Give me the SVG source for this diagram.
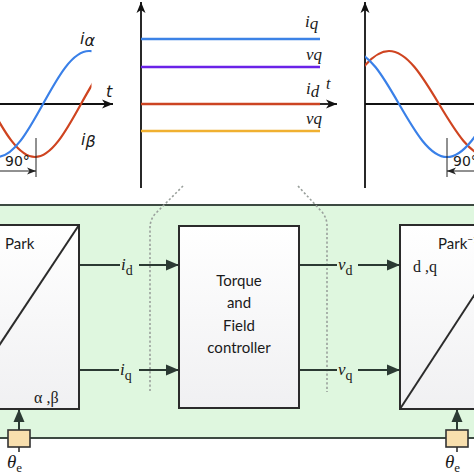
<svg xmlns="http://www.w3.org/2000/svg" width="474" height="474" viewBox="0 0 474 474">
<style>
.box{fill:url(#boxg);stroke:#2b2b2b;stroke-width:2}
.wire{fill:none;stroke:#2b3a33;stroke-width:2}
.dot{fill:none;stroke:#9aa09c;stroke-width:1.6;stroke-dasharray:2.2 2.2}
.sans{font-family:Lato,"Open Sans","Liberation Sans",sans-serif;font-size:15px;fill:#1a1a1a}
.ser{font-family:"Liberation Serif","DejaVu Serif",serif;fill:#1a1a1a}
.it{font-style:italic}
.obl{font-family:"DejaVu Sans","Liberation Sans",sans-serif;font-style:oblique;font-size:16px;fill:#1a1a1a}
.axis{fill:none;stroke:#111;stroke-width:1.8}
.cb{fill:none;stroke:#3a80e8;stroke-width:2.2}
.cr{fill:none;stroke:#cf4420;stroke-width:2.2}
.thin{fill:none;stroke:#222;stroke-width:1}
</style>
<defs>
<linearGradient id="boxg" x1="0" y1="0" x2="0" y2="1"><stop offset="0" stop-color="#ffffff"/><stop offset="1" stop-color="#f0f0f2"/></linearGradient>
<marker id="ah" markerUnits="userSpaceOnUse" markerWidth="14" markerHeight="12" refX="13" refY="6" orient="auto"><path d="M0,0.5 L13,6 L0,11.5 z" fill="#2b3a33"/></marker>
<marker id="ax" markerUnits="userSpaceOnUse" markerWidth="12" markerHeight="10" refX="11" refY="5" orient="auto"><path d="M0,0.5 L11,5 L0,9.5 L3,5 z" fill="#111"/></marker>
<marker id="sm" markerUnits="userSpaceOnUse" markerWidth="10" markerHeight="8" refX="9" refY="4" orient="auto"><path d="M0,0.5 L9,4 L0,7.5 L2.5,4 z" fill="#222"/></marker>
<clipPath id="clipL"><rect x="0" y="0" width="91.5" height="200"/></clipPath>
<clipPath id="clipR"><rect x="365" y="0" width="109" height="200"/></clipPath>
</defs>
<rect x="0" y="0" width="474" height="474" fill="#ffffff"/>

<!-- top plots -->
<g id="plot-left">
<line class="axis" x1="0" y1="104" x2="113" y2="104" marker-end="url(#ax)"/>
<text class="obl" x="106" y="97" font-size="15">t</text>
<g clip-path="url(#clipL)">
<path class="cr" d="M-11,104 C4,131.2 18.4,157 35,157 C51.6,157 66,131.2 81,104 C96,76.8 110.4,51 127,51"/>
<path class="cb" d="M-3,157 C13.6,157 28,131.2 43,104 C58,76.8 72.4,51 89,51 C105.6,51 110,60 120,70"/>
</g>
<text class="obl" x="80" y="44">i<tspan dy="2">α</tspan></text>
<text class="obl" x="81" y="145">i<tspan dy="2">β</tspan></text>
<line class="thin" x1="36" y1="138" x2="36" y2="177"/>
<line class="thin" x1="0" y1="171" x2="36" y2="171" marker-end="url(#sm)"/>
<text x="5" y="166" font-family="DejaVu Sans,Liberation Sans,sans-serif" font-size="14" fill="#1a1a1a">90°</text>
</g>

<g id="plot-middle">
<line class="axis" x1="141" y1="188" x2="141" y2="2" marker-end="url(#ax)"/>
<line x1="141" y1="39" x2="320" y2="39" stroke="#3c82e6" stroke-width="2.5"/>
<line x1="141" y1="67" x2="320" y2="67" stroke="#6a22e8" stroke-width="2.5"/>
<line x1="318" y1="104" x2="337" y2="104" class="axis" marker-end="url(#ax)"/>
<line x1="141" y1="104" x2="320" y2="104" stroke="#cc4422" stroke-width="2.5"/>
<line x1="141" y1="131" x2="320" y2="131" stroke="#f0b030" stroke-width="2.5"/>
<text class="ser it" x="305" y="27" font-size="17">i<tspan dy="2">q</tspan></text>
<text class="ser it" x="306" y="60" font-size="17">vq</text>
<text class="ser it" x="306" y="94" font-size="17">i<tspan dy="3">d</tspan></text>
<text class="ser it" x="326" y="89" font-size="16">t</text>
<text class="ser it" x="306" y="124" font-size="17">vq</text>
</g>

<g id="plot-right">
<line class="axis" x1="365" y1="188" x2="365" y2="2" marker-end="url(#ax)"/>
<line class="axis" x1="365" y1="104" x2="474" y2="104"/>
<g clip-path="url(#clipR)">
<path class="cr" d="M339,104 C355.3,76.8 370.9,51 389,51 C407.1,51 422.7,76.8 439,104 C455.3,131.2 470.9,157 489,157"/>
<path class="cb" d="M351,51 C368.4,51 383.3,76.8 399,104 C414.7,131.2 429.6,157 447,157 C464.4,157 479.3,131.2 495,104"/>
</g>
<line class="thin" x1="447" y1="138" x2="447" y2="177"/>
<line class="thin" x1="474" y1="171" x2="447" y2="171" marker-end="url(#sm)"/>
<text x="453" y="166" font-family="DejaVu Sans,Liberation Sans,sans-serif" font-size="14" fill="#1a1a1a">90°</text>
</g>

<!-- green panel -->
<rect x="-5" y="205" width="484" height="233" fill="#dff7df" stroke="#3d4a42" stroke-width="2"/>

<g id="connectors">
<path class="dot" d="M183,186 L155,214 Q150,220 150,228 L150,392"/>
<path class="dot" d="M298,186 L322,212 Q327,218 327,226 L327,392"/>
<line class="wire" x1="80" y1="265" x2="120" y2="265"/>
<line class="wire" x1="139" y1="265" x2="179" y2="265" marker-end="url(#ah)"/>
<line class="wire" x1="80" y1="370" x2="119" y2="370"/>
<line class="wire" x1="139" y1="370" x2="179" y2="370" marker-end="url(#ah)"/>
<line class="wire" x1="299" y1="265" x2="337" y2="265"/>
<line class="wire" x1="358" y1="265" x2="400" y2="265" marker-end="url(#ah)"/>
<line class="wire" x1="299" y1="370" x2="337" y2="370"/>
<line class="wire" x1="358" y1="370" x2="400" y2="370" marker-end="url(#ah)"/>
<line class="wire" x1="19" y1="438" x2="19" y2="409" marker-end="url(#ah)"/>
<line class="wire" x1="457" y1="438" x2="457" y2="409" marker-end="url(#ah)"/>
<text class="ser it" x="121" y="270" font-size="17">i<tspan class="ser" font-style="normal" font-size="14" dy="5">d</tspan></text>
<text class="ser it" x="120" y="375" font-size="17">i<tspan class="ser" font-style="normal" font-size="14" dy="5">q</tspan></text>
<text class="ser it" x="338" y="270" font-size="17">v<tspan class="ser" font-style="normal" font-size="14" dy="5">d</tspan></text>
<text class="ser it" x="338" y="375" font-size="17">v<tspan class="ser" font-style="normal" font-size="14" dy="5">q</tspan></text>
</g>

<g id="park">
<rect class="box" x="-5" y="225" width="84" height="184"/>
<line x1="79" y1="225" x2="-43" y2="409" stroke="#2b2b2b" stroke-width="2"/>
<text class="sans" x="5" y="249">Park</text>
<text class="ser" x="34" y="403" font-size="16">α ,β</text>
</g>

<g id="controller">
<rect class="box" x="179" y="226" width="120" height="182"/>
<text class="sans" text-anchor="middle" x="239" y="286">Torque</text>
<text class="sans" text-anchor="middle" x="239" y="308">and</text>
<text class="sans" text-anchor="middle" x="239" y="331">Field</text>
<text class="sans" text-anchor="middle" x="239" y="353">controller</text>
</g>

<g id="park-inv">
<rect class="box" x="400" y="225" width="80" height="184"/>
<line x1="400" y1="409" x2="520" y2="225" stroke="#2b2b2b" stroke-width="2"/>
<text class="sans" x="438" y="249">Park<tspan font-size="10" dy="-6">−1</tspan></text>
<text class="ser" x="413" y="272" font-size="16">d ,q</text>
</g>

<g id="theta-left">
<rect x="8" y="430" width="22" height="17" fill="#f8dfae" stroke="#333" stroke-width="1.6"/>
<line x1="19" y1="447" x2="19" y2="452" stroke="#333" stroke-width="1.6"/>
<text class="ser it" x="7" y="468" font-size="19">θ<tspan font-style="normal" font-size="13" dy="4">e</tspan></text>
</g>
<g id="theta-right">
<rect x="446" y="430" width="22" height="17" fill="#f8dfae" stroke="#333" stroke-width="1.6"/>
<line x1="457" y1="447" x2="457" y2="452" stroke="#333" stroke-width="1.6"/>
<text class="ser it" x="445" y="468" font-size="19">θ<tspan font-style="normal" font-size="13" dy="4">e</tspan></text>
</g>
</svg>
